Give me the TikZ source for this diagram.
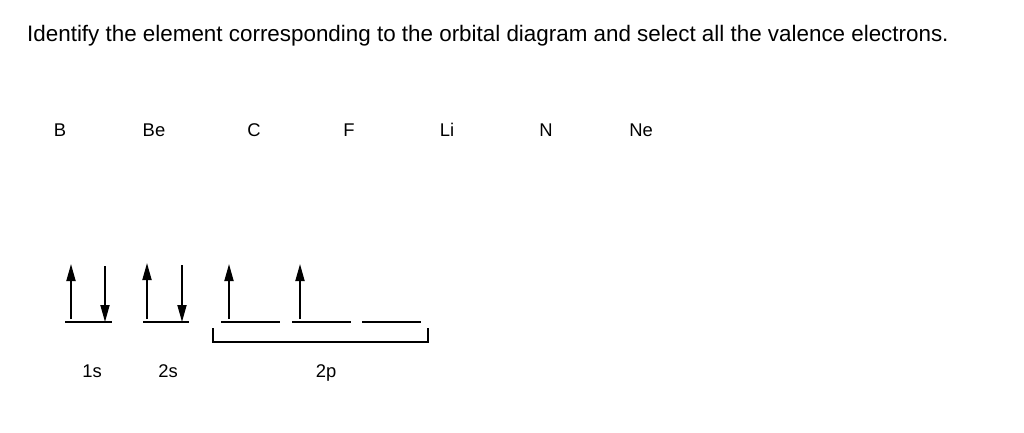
\documentclass[tikz,border=0pt]{standalone}
\usepackage{fontspec}
\setmainfont{Liberation Sans}
\usetikzlibrary{arrows.meta}
\begin{document}
\begin{tikzpicture}[x=1pt,y=-1pt,
  title/.style={anchor=base west,inner sep=0pt,font=\fontsize{22.4}{26}\selectfont},
  elem/.style={anchor=base,inner sep=0pt,font=\fontsize{18.4}{22}\selectfont},
  orblabel/.style={anchor=base,inner sep=0pt,font=\fontsize{18.4}{22}\selectfont},
  level/.style={line width=1.8pt},
  spin/.style={line width=1.8pt,-{Triangle[length=17pt,width=9pt]}},
  brace/.style={line width=1.6pt}]
\useasboundingbox (0,0) rectangle (1024,432);
\fill[white] (0,0) rectangle (1024,432);
\node[title] (t) at (27,41) {Identify the element corresponding to the orbital diagram and select all the valence electrons.};
\node[elem] (eB) at (60,136) {B};
\node[elem] (eBe) at (154,136) {Be};
\node[elem] (eC) at (254,136) {C};
\node[elem] (eF) at (349,136) {F};
\node[elem] (eLi) at (447,136) {Li};
\node[elem] (eN) at (546,136) {N};
\node[elem] (eNe) at (641,136) {Ne};
% orbital levels
\draw[level] (65,322) -- (112,322);
\draw[level] (143,322) -- (189,322);
\draw[level] (221,322) -- (280,322);
\draw[level] (292,322) -- (351,322);
\draw[level] (362,322) -- (421,322);
% spins
\draw[spin] (71,319) -- (71,264);
\draw[spin] (105,266) -- (105,322);
\draw[spin] (147,319) -- (147,263);
\draw[spin] (182,265) -- (182,322);
\draw[spin] (229,319) -- (229,264);
\draw[spin] (300,319) -- (300,264);
% bracket
\draw[brace] (213,328) -- (213,342) -- (428,342) -- (428,328);
% labels
\node[orblabel] (l1s) at (92,377) {1s};
\node[orblabel] (l2s) at (168,377) {2s};
\node[orblabel] (l2p) at (326,377) {2p};
\end{tikzpicture}
\end{document}
